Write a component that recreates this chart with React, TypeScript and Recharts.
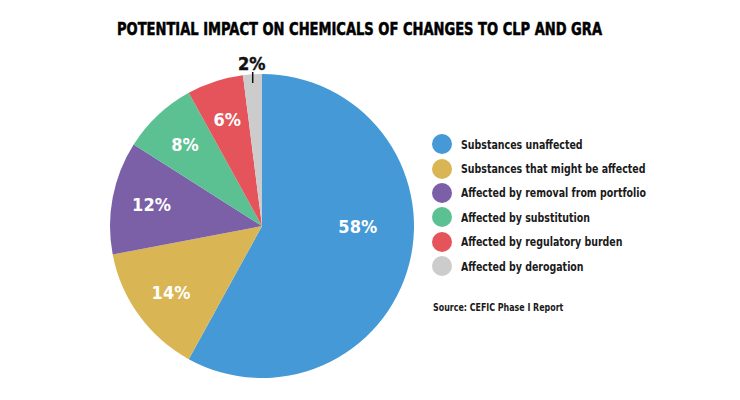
import { PieChart, Pie, Cell, Legend } from 'recharts';

// Share of chemicals by impact category (percent)
const CATEGORIES = [
  'Substances unaffected',
  'Substances that might be affected',
  'Affected by removal from portfolio',
  'Affected by substitution',
  'Affected by regulatory burden',
  'Affected by derogation'
];
const SHARES = [58, 14, 12, 8, 6, 2];

const COLORS = ['#4499d6', '#dab553', '#7b60a8', '#5cc192', '#e5545a', '#cccccc'];

const TITLE = 'POTENTIAL IMPACT ON CHEMICALS OF CHANGES TO CLP AND GRA';
const SOURCE = 'Source: CEFIC Phase I Report';

const FONT = "'DejaVu Sans Condensed', 'Liberation Sans Narrow', Roboto, sans-serif";
const RADIAN = Math.PI / 180;

const data = CATEGORIES.map((name, i) => ({ name, value: SHARES[i] }));

function renderLabel(props: any) {
  const { cx, cy, midAngle, outerRadius, index, value } = props;
  const last = index === SHARES.length - 1;

  if (last) {
    // tiny slice: label sits outside with a short leader
    const lx = cx + (outerRadius + 11) * Math.cos(-midAngle * RADIAN);
    const ly = cy + (outerRadius + 11) * Math.sin(-midAngle * RADIAN);
    const tx = cx + (outerRadius - 4) * Math.cos(-midAngle * RADIAN);
    return (
      <g>
        <line x1={tx} y1={cy - outerRadius - 2} x2={tx} y2={cy - outerRadius + 9} stroke="#111" strokeWidth={1.5} />
        <text x={lx} y={ly} fill="#111" textAnchor="middle" dominantBaseline="central"
          stroke="#111" strokeWidth={0.4}
          style={{ fontFamily: FONT, fontWeight: 700, fontSize: 18 }}>
          {value}%
        </text>
      </g>
    );
  }

  const angle = index === 0 ? 0 : midAngle;
  const r = outerRadius * (index === 0 ? 0.63 : 0.74);
  const x = cx + r * Math.cos(-angle * RADIAN);
  const y = cy + r * Math.sin(-angle * RADIAN);
  return (
    <text x={x} y={y} fill="#fff" textAnchor="middle" dominantBaseline="central"
      style={{ fontFamily: FONT, fontWeight: 700, fontSize: 18 }}>
      {value}%
    </text>
  );
}

const squash = (scale: number): React.CSSProperties => ({
  display: 'inline-block',
  transform: `scaleX(${scale})`,
  transformOrigin: 'left center',
  whiteSpace: 'nowrap'
});

function LegendContent() {
  return (
    <div style={{ fontFamily: FONT, fontWeight: 700, color: '#1a1a1a' }}>
      {CATEGORIES.map((name, i) => (
        <div key={name} style={{ display: 'flex', alignItems: 'center', height: 24.4 }}>
          <span style={{
            display: 'inline-block', width: 20, height: 20, borderRadius: '50%',
            backgroundColor: COLORS[i], marginRight: 9, flexShrink: 0
          }} />
          <span style={{ fontSize: 12.5, ...squash(0.84) }}>{name}</span>
        </div>
      ))}
      <div style={{ fontSize: 11, marginTop: 23, marginLeft: 1, ...squash(0.8) }}>{SOURCE}</div>
    </div>
  );
}

export default function App() {
  return (
    <div style={{ position: 'relative', width: 740, height: 400, background: '#fff' }}>
      <style>{'body{margin:0}'}</style>
      <svg width={740} height={50} style={{ position: 'absolute', left: 0, top: 0 }}>
        <text x={117} y={35} textLength={485} lengthAdjust="spacingAndGlyphs"
          stroke="#000" strokeWidth={0.5}
          style={{ fontFamily: FONT, fontWeight: 700, fontSize: 17 }} fill="#000">
          {TITLE}
        </text>
      </svg>
      <PieChart width={740} height={400} margin={{ top: 0, right: 0, bottom: 0, left: 0 }}
        style={{ position: 'absolute', left: 0, top: 0 }}>
        <Pie
          data={data}
          dataKey="value"
          nameKey="name"
          cx={262}
          cy={226}
          outerRadius={152}
          startAngle={90}
          endAngle={-270}
          stroke="none"
          label={renderLabel}
          labelLine={false}
          isAnimationActive={false}
        >
          {data.map((d, i) => (
            <Cell key={d.name} fill={COLORS[i]} />
          ))}
        </Pie>
        <Legend
          layout="vertical"
          content={<LegendContent />}
          wrapperStyle={{ left: 432, top: 132, width: 300 }}
        />
      </PieChart>
    </div>
  );
}
